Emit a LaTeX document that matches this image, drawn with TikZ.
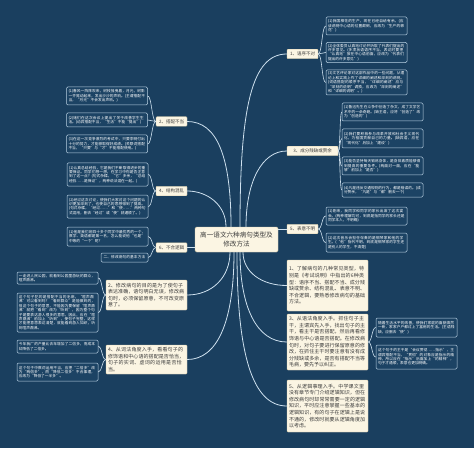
\documentclass[tikz,border=0pt]{standalone}
\usepackage{fontspec}
\newfontfamily\cjk{Noto Sans CJK SC}
\XeTeXlinebreaklocale "zh"
\XeTeXlinebreakskip = 0pt plus 1pt
\definecolor{bg}{HTML}{1A3F5F}
\definecolor{leafbg}{HTML}{1C4364}
\definecolor{leafborder}{HTML}{B9D0E2}
\definecolor{cream}{HTML}{FBF5E3}
\definecolor{creamborder}{HTML}{D8CCA8}
\definecolor{txtdark}{HTML}{3B3B3B}
\definecolor{linec}{HTML}{CFE1EF}
\tikzset{
  leaf/.style={draw=leafborder, fill=leafbg, rounded corners=1.2pt, line width=0.5pt,
    text=white, font=\cjk\fontsize{3.7}{4.4}\selectfont, text width=77pt, align=left,
    inner xsep=2pt, inner ysep=1.5pt},
  topic/.style={draw=creamborder, fill=cream, rounded corners=1pt, line width=0.4pt,
    text=txtdark, font=\cjk\fontsize{4.5}{5.5}\selectfont, inner xsep=2pt, inner ysep=1pt,
    minimum height=9.5pt},
  bigbox/.style={draw=creamborder, fill=cream, rounded corners=1pt, line width=0.4pt,
    text=txtdark, font=\cjk\fontsize{5}{6.6}\selectfont, text width=77pt, align=left,
    inner xsep=2pt, inner ysep=2pt},
  conn/.style={draw=linec, line width=0.8pt},
  brk/.style={draw=linec, line width=0.6pt},
}
\begin{document}
\begin{tikzpicture}[x=1pt,y=1pt]
\useasboundingbox (0,0) rectangle (474,448);
\fill[bg] (0,0) rectangle (474,448);

% central
\node[draw=creamborder, fill=cream, rounded corners=1.5pt, text=txtdark,
  font=\cjk\fontsize{6.6}{9}\selectfont, align=center, minimum width=83pt,
  minimum height=25pt, inner sep=1pt] (C) at (236.5,208.5) {高一语文六种病句类型及\\修改方法};

% topic labels
\node[topic, minimum width=31pt] (n1) at (302.5,394) {1、语序不对};
\node[topic, minimum width=31pt] (n2) at (171.5,326.5) {2、搭配不当};
\node[topic, minimum width=51pt] (n3) at (312.5,297) {3、成分残缺或赘余};
\node[topic, minimum width=31pt] (n4) at (171.5,257) {4、结构混乱};
\node[topic, minimum width=31pt] (n5) at (302.5,219) {5、表意不明};
\node[topic, minimum width=31pt] (n6) at (171.5,200.5) {6、不合逻辑};

% leaves of 1
\node[leaf, minimum height=18pt] (l1a) at (366.5,422) {(1)我国棉花的生产，现在已经自给有余。(应该说明中心语的位置颠倒，应改为“生产的棉花”)};
\node[leaf, minimum height=19pt] (l1b) at (366.5,395.5) {(2)全体委员认真地讨论并听取了代表们提出的许多意见。(多项状语语序不当，表达时要把“认真地”放在中心语前面，应改为“代表们提出的许多意见”)};
\node[leaf, minimum height=25pt] (l1c) at (366.5,365.5) {(3)文艺评论家对这部作品中的一些问题，从理论上和实践上作了详细的阐述和深刻的说明。(词语搭配的顺序不当，“详细的阐述”应与“深刻的说明”调换，应改为“深刻的阐述”和“详细的说明”。)};

% leaves of 2
\node[leaf, minimum height=18pt] (l2a) at (107,352) {(1)春风一阵阵吹来，树枝摇曳着，月光，树影一齐晃动起来，发出沙沙的声响。(主谓搭配不当，“月光”不会发出声响。)};
\node[leaf, minimum height=14pt] (l2b) at (107,328) {(2)她们在这次会议上提出了关于改善学生生活。(动宾搭配不当，“生活”不能“提出”)};
\node[leaf, minimum height=18pt] (l2c) at (107,304) {(3)在这一次竞争激烈的考试中，只要李明付出十分的努力，才能够取得好成绩。(关联词搭配不当，“只要”与“才”不能搭配使用。)};

% leaves of 4
\node[leaf, minimum height=23pt] (l4a) at (107.5,273.5) {(1)认真总结经验，它是我们不断取得进步的重要保证。同学们想一想，在学习中你是否注意到了这一点？(句式杂糅，“它”多余，“总结经验……是保证”，两种说法混在一起。)};
\node[leaf, minimum height=23pt] (l4b) at (107.5,241.5) {(2)经过这次讨论，使我们大家对这个问题的认识更加深刻了，也使自己的思想得到了提高。(句式杂糅，“经过……”和“使……”两种句式混用，删去“经过”或“使”就通顺了。)};

% leaves of 6
\node[leaf, minimum height=19pt] (l6a) at (107.5,211.5) {(1)他是我们班四十多个同学中最优秀的一个，数学、英语都是第一名，怎么能说他“也是”中等的“一个”呢？};
\node[leaf, text width=43pt, minimum height=9pt, align=center, inner ysep=1pt] (l6b) at (124.5,190.5) {二、修改病句的基本方法};

% leaves of 3
\node[leaf, minimum height=18pt] (l3a) at (382.5,336) {(1)鲁迅先生在斗争中创造了杂文，成了文学艺术中的一朵奇葩。(缺主语，应将“创造了”改为“创造的”)};
\node[leaf, minimum height=19pt] (l3b) at (382.5,309.5) {(2)我们要积极参与改革开放和社会主义现代化，为祖国贡献自己的力量。(缺宾语，应在“现代化”后加上“建设”)};
\node[leaf, minimum height=18pt] (l3c) at (382.5,282) {(3)能否坚持每天锻炼身体，是身体素质能够得到提高的重要条件。(两面对一面，应在“能够”前加上“是否”)};
\node[leaf, minimum height=14pt] (l3d) at (382.5,258) {(4)凡是违反交通规则的行为，都是错误的。(成分赘余，“凡是”与“都”删去一个)};

% leaves of 5
\node[leaf, minimum height=18pt] (l5a) at (366.5,232) {(1)刚来，我同学和同学的家长出席了这次宴会。(两种理解均可，到底是指同学的家长还是同学本人，不明确)};
\node[leaf, minimum height=19pt] (l5b) at (366.5,205.5) {(2)这次音乐会担任伴奏的是钢琴家和他的学生。(“他”指代不明，到底是钢琴家的学生还是别人的学生，不清楚)};

% big boxes
\node[bigbox, minimum height=51pt] (R1) at (327.5,162.5) {1、了解病句的几种常见类型，特别是《考试说明》中指出的6种类型：语序不当、搭配不当、成分残缺或赘余、结构混乱、表意不明、不合逻辑，要熟悉修改病句的基础方法。};
\node[bigbox, minimum height=56pt] (R3) at (327.5,106) {3、从语法角度入手。抓住句子主干，主谓宾先入手，找出句子的主干，看主干是否搭配，然后再看修饰语与中心语是否搭配。在修改病句时，对句子要进行保留原意的修改，在抓住主干时要注意有没有成分残缺或多余，是否有搭配不当等毛病，要先予以纠正。};
\node[bigbox, minimum height=52pt] (R5) at (327.5,42) {5、从逻辑事理入手。中学课文里没有章节专门介绍逻辑知识，但在修改病句时却常常需要一定的逻辑知识，平时应注意掌握一些基本的逻辑知识，有的句子在逻辑上是说不通的，修改时就要从逻辑角度加以考虑。};
\node[bigbox, minimum height=30pt] (L2) at (146.5,153) {2、修改病句的目的是为了使句子表达准确，语句明白无误，修改病句时，必须保留原意，不可改变原意了。};
\node[bigbox, minimum height=29pt] (L4) at (146.5,88.5) {4、从词法角度入手，看看句子的修饰语和中心语的搭配是否恰当，句子的实词、虚词的运用是否恰当。};

% leaves of R3
\node[leaf, minimum height=19pt] (r3a) at (416.5,120.5) {随着生活水平的改善，使我们家庭的面貌焕然一新，家家户户都过上了富裕的生活。(主语残缺，应删去“使”)};
\node[leaf, minimum height=24pt] (r3b) at (416.5,91) {这个句子的主干是“会议贯彻……指示”，主谓宾搭配不当，“贯彻”的对象应是指示的精神，所以应在“指示”后面加上“的精神”，句子才通顺，表意也更加明确。};

% leaves of L2
\node[leaf, minimum height=12pt] (m2a) at (57.5,170) {一走进人民公园，就看到公园里游玩的群众，喧声鼎沸。};
\node[leaf, minimum height=39pt] (m2b) at (57.5,135.5) {这个句子犯的是搭配不当的毛病，“喧声鼎沸”可以看到吗？“看到群众”是能做到的，但这个句子的意思，不能因为要保留“喧声鼎沸”就把“看到”改为“听到”，因为整个句子是要表达游人很多的意思，因此，应在“喧声鼎沸”前加上“听到”，使句子完整，这样才能把意思表达清楚，就能看到游人如织，听到喧声鼎沸。};

% leaves of L4
\node[leaf, minimum height=13pt] (m4a) at (57.5,101.5) {今年我厂的产量比去年增加了二倍多，而成本却降低了二倍多。};
\node[leaf, minimum height=18pt] (m4b) at (57.5,76) {这个句子中数词运用不当，应把“二倍多”改为“两倍多”，而“降低二倍多”不合事理，应改为“降低了一半多”。};

% main connectors
\draw[conn] ([xshift=3.5pt]C.north) .. controls +(0,120) and +(-35,0) .. (n1.west);
\draw[conn] ([xshift=9.5pt]C.north) .. controls +(0,45) and +(-25,0) .. (n3.west);
\draw[conn] ([xshift=-5.5pt]C.north) .. controls +(0,70) and +(30,0) .. (n2.east);
\draw[conn] ([xshift=-10.5pt]C.north) .. controls +(0,22) and +(20,0) .. (n4.east);
\draw[conn] (n5.west) -- (n5.west -| C.east);
\draw[conn] (n6.east) -- (n6.east -| C.west);
\draw[conn] ([xshift=-6.5pt]C.south) .. controls +(0,-25) and +(25,0) .. (L2.east);
\draw[conn] ([xshift=-2.5pt]C.south) .. controls +(0,-70) and +(30,0) .. (L4.east);
\draw[conn] ([xshift=6.5pt]C.south) .. controls +(0,-20) and +(-25,0) .. (R1.west);
\draw[conn] ([xshift=3.5pt]C.south) .. controls +(0,-55) and +(-30,0) .. (R3.west);
\draw[conn] ([xshift=0.5pt]C.south) .. controls +(0,-100) and +(-35,0) .. (R5.west);

% brackets
\foreach \c in {l1a,l1b,l1c} \draw[brk] (n1.east) .. controls +(4,0) and +(-4,0) .. (\c.west);
\foreach \c in {l3a,l3b,l3c,l3d} \draw[brk] (n3.east) .. controls +(2,0) and +(-2,0) .. (\c.west);
\foreach \c in {l5a,l5b} \draw[brk] (n5.east) .. controls +(4,0) and +(-4,0) .. (\c.west);
\foreach \c in {l2a,l2b,l2c} \draw[brk] (n2.west) .. controls +(-4,0) and +(4,0) .. (\c.east);
\foreach \c in {l4a,l4b} \draw[brk] (n4.west) .. controls +(-4,0) and +(4,0) .. (\c.east);
\foreach \c in {l6a,l6b} \draw[brk] (n6.west) .. controls +(-4,0) and +(4,0) .. (\c.east);
\foreach \c in {r3a,r3b} \draw[brk] (R3.east) .. controls +(4,0) and +(-4,0) .. (\c.west);
\foreach \c in {m2a,m2b} \draw[brk] (L2.west) .. controls +(-4,0) and +(4,0) .. (\c.east);
\foreach \c in {m4a,m4b} \draw[brk] (L4.west) .. controls +(-4,0) and +(4,0) .. (\c.east);
\end{tikzpicture}
\end{document}
